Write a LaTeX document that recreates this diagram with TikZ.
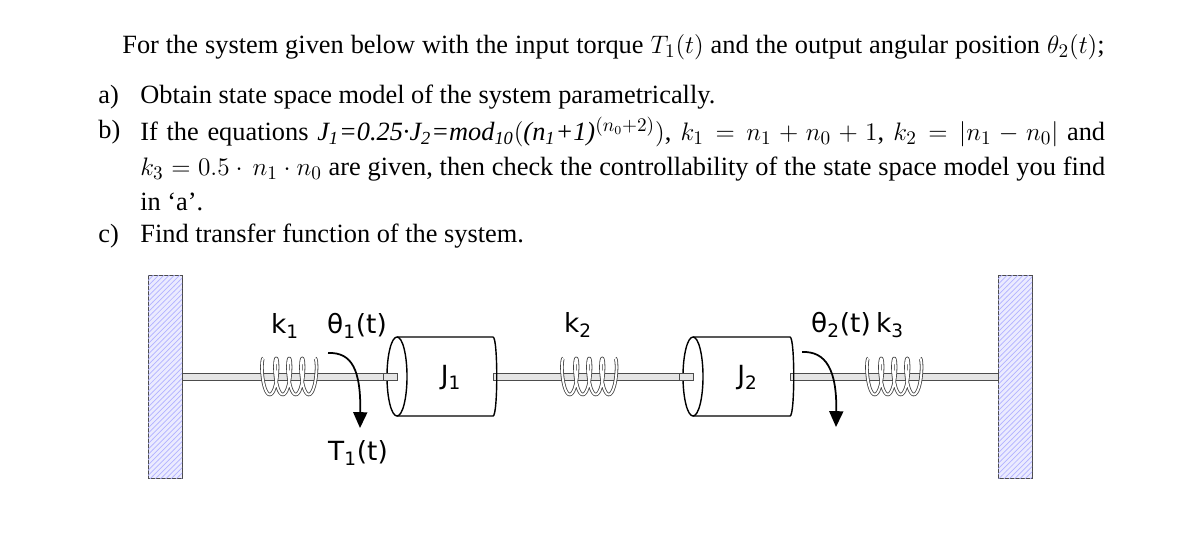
\documentclass[tikz,border=0pt]{standalone}
\usepackage{fontspec}
\setmainfont{Liberation Serif}
\newfontfamily\dfont{DejaVu Sans}
\usetikzlibrary{patterns,arrows.meta}
\tikzset{
 txt/.style={anchor=west,inner sep=0pt,font=\fontsize{15}{17}\selectfont},
 lab/.style={inner sep=0pt,font=\dfont\fontsize{15}{18}\selectfont},
 wall/.style={draw=black!70,fill=blue!8,postaction={pattern=north east lines,pattern color=blue!30}},
 shaft/.style={draw=black!70,fill=black!10,line width=0.5pt},
 coil/.style={draw=black!75,double=white,double distance=1.1pt,line width=0.45pt},
 torque/.style={line width=1pt,-{Triangle[length=9pt,width=8pt]}}
}
\begin{document}
\begin{tikzpicture}[x=0.02cm,y=-0.02cm]
\useasboundingbox (0,0) rectangle (1199,534);
% text
\node[txt] (l1) at (122,47) {\makebox[19.65cm][s]{For the system given below with the input torque $T_1(t)$ and the output angular position $\theta_2(t)$;}};
\node[txt] (la) at (98,97) {a)};
\node[txt] (la2) at (140,97) {Obtain state space model of the system parametrically.};
\node[txt] (lb) at (98,132) {b)};
\node[txt] (lb1) at (140,132) {\makebox[19.3cm][s]{If the equations \textit{J\textsubscript{1}=0.25·J\textsubscript{2}=mod\textsubscript{10}}$\bigl($\textit{(n\textsubscript{1}+1)}$^{(n_0+2)}\bigr)$, $k_1=n_1+n_0+1$, $k_2=|n_1-n_0|$ and}};
\node[txt] (lb2) at (140,169) {\makebox[19.3cm][s]{$k_3=0.5\cdot\, n_1\cdot n_0$ are given, then check the controllability of the state space model you find}};
\node[txt] (lb3) at (140,202) {in ‘a’.};
\node[txt] (lc) at (98,236) {c)};
\node[txt] (lc2) at (140,236) {Find transfer function of the system.};
% walls
\path[wall] (148,275) rectangle (182,478);
\path[wall] (998,275) rectangle (1032,478);
% shafts
\path[shaft] (182,373) rectangle (397,380);
\path[shaft] (493,373) rectangle (693,380);
\path[shaft] (790,373) rectangle (998,380);
% springs
\foreach \xo in {260,560,865}{
 \draw[coil,domain=90:1530,samples=240,smooth] plot ({\xo+\x/360*13+4*cos(\x)},{376.5-18*sin(\x)});
}
% cylinders
\foreach \xa/\xb/\n/\t in {397/493/J1/J\textsubscript{1},693/790/J2/J\textsubscript{2}}{
 \path[fill=white] (\xa,337) rectangle (\xb,416);
 \draw[line width=0.8pt] (\xa,337) -- (\xb,337) .. controls (\xb+5,337) and (\xb+5,416) .. (\xb,416) -- (\xa,416);
 \draw[line width=0.8pt,fill=white] (\xa,376.5) ellipse[x radius=10,y radius=39.5];
 \path[shaft] (\xa-14,373) rectangle (\xa,380);
 \node[lab] (\n) at ({(\xa+\xb)/2+6},378) {\t};
}
% torques
\coordinate (a1) at (328,353);
\coordinate (b1) at (360,428);
\coordinate (a2) at (802,352);
\coordinate (b2) at (836,427);
\draw[torque] (a1) .. controls (352,352) and (361,370) .. (b1);
\draw[torque] (a2) .. controls (826,351) and (837,370) .. (b2);
% labels
\node[lab] (k1) at (285,326) {k\textsubscript{1}};
\node[lab] (th1) at (357,326) {θ\textsubscript{1}(t)};
\node[lab] (T1) at (358,453) {T\textsubscript{1}(t)};
\node[lab] (k2) at (578,325) {k\textsubscript{2}};
\node[lab] (th2) at (841,325) {θ\textsubscript{2}(t)};
\node[lab] (k3) at (890,325) {k\textsubscript{3}};
\end{tikzpicture}
\end{document}
